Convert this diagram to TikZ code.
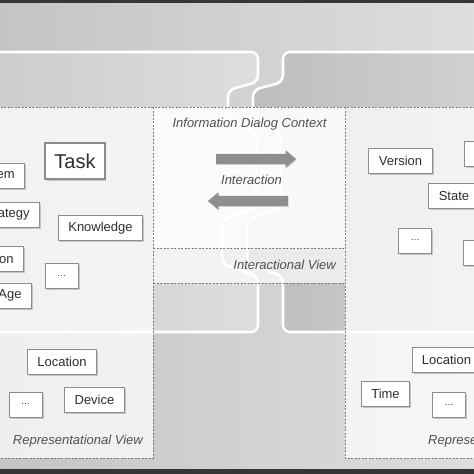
\documentclass[tikz,border=0pt]{standalone}
\usepackage{fontspec}
\setmainfont{Liberation Sans}
\usepackage{xcolor}
\usepackage{tikz}
\usetikzlibrary{arrows,shapes,shapes.arrows,shadows,positioning}

\definecolor{boxline}{HTML}{8C8C8C}
\definecolor{boxtext}{HTML}{2E2E2E}
\definecolor{viewtext}{HTML}{505050}
\definecolor{dashline}{HTML}{7C7C7C}
\definecolor{flowgray}{HTML}{8E8E8E}
\definecolor{frame}{HTML}{363636}

\begin{document}
\begin{tikzpicture}[x=1pt, y=-1pt, node distance=1.7cm, auto, >=latex']
  \tikzstyle{item}=[rectangle, draw=boxline, fill=white, line width=0.8pt, text=boxtext, font=\fontsize{13}{15}\selectfont, inner xsep=10pt, inner ysep=0pt, minimum height=25pt, drop shadow={shadow xshift=1.6pt, shadow yshift=-1.6pt, fill=black!40}]
  \tikzstyle{dots}=[item, minimum width=33pt, font=\fontsize{9}{11}\selectfont]
  \tikzstyle{view}=[font=\fontsize{13}{15}\selectfont\itshape, text=viewtext, inner sep=0pt]
  \tikzstyle{panel}=[draw=dashline, dash pattern=on 2pt off 1.5pt, line width=0.6pt]
  \tikzstyle{edge}=[draw=white, line width=2.6pt, rounded corners=7pt]
  \tikzstyle{flow}=[single arrow, fill=flowgray, draw=none, inner xsep=0pt, inner ysep=5pt, single arrow head extend=3.5pt, single arrow tip angle=80, minimum height=80pt, drop shadow={shadow xshift=1pt, shadow yshift=-1pt, fill=black!25}]

  \useasboundingbox (0,0) rectangle (474,474);
  \clip (0,0) rectangle (474,474);

  % background and puzzle pieces
  \shade[left color=black!23, right color=black!13] (0,0) rectangle (474,474);
  \shade[left color=black!20, right color=black!13, rounded corners=7pt]
    (-10,52) -- (258,52) -- (258,82) -- (228,90) -- (228,118) -- (256,132) -- (256,208)
    -- (222,220) -- (222,264) -- (258,276) -- (258,332) -- (-10,332) -- cycle;
  \shade[left color=black!26, right color=black!18, rounded corners=7pt]
    (484,52) -- (283,52) -- (283,82) -- (253,90) -- (253,118) -- (281,132) -- (281,208)
    -- (247,220) -- (247,264) -- (283,276) -- (283,332) -- (484,332) -- cycle;
  \draw[edge] (-10,52) -- (258,52) -- (258,82) -- (228,90) -- (228,118) -- (256,132) -- (256,208)
    -- (222,220) -- (222,264) -- (258,276) -- (258,332) -- (-10,332);
  \draw[edge] (484,52) -- (283,52) -- (283,82) -- (253,90) -- (253,118) -- (281,132) -- (281,208)
    -- (247,220) -- (247,264) -- (283,276) -- (283,332) -- (484,332);

  % panels
  \fill[white, fill opacity=0.74] (-10,107) rectangle (153,458);
  \fill[white, fill opacity=0.74] (345,107) rectangle (484,458);
  \fill[white, fill opacity=0.9] (153,107) rectangle (345,248);
  \fill[white, fill opacity=0.68] (153,248) rectangle (345,283);
  \draw[panel] (-10,107) -- (484,107);
  \draw[panel] (153,248) -- (345,248) (153,283) -- (345,283);
  \draw[panel] (153,107) -- (153,458) -- (-10,458);
  \draw[panel] (345,107) -- (345,458) -- (484,458);

  % frame
  \fill[frame] (0,0) rectangle (474,2.5);
  \fill[frame] (0,469) rectangle (474,474);

  % left panel
  \node[item, font=\fontsize{20}{24}\selectfont, line width=2pt, minimum height=36pt, inner xsep=9pt] (task) at (75,161) {Task};
  \node[item, anchor=east] (problem) at (25,175.5) {System};
  \node[item, anchor=east] (strategy) at (40,214.5) {Strategy};
  \node[item] (knowledge) at (100.5,228) {Knowledge};
  \node[item, anchor=east] (emotion) at (24,259) {Emotion};
  \node[dots] (userdots) at (61.5,276) {\ldots};
  \node[item, anchor=east] (age) at (32,295.5) {Age};
  \node[item] (userloc) at (62,362) {Location};
  \node[dots] (userdevdots) at (25.5,404.5) {\ldots};
  \node[item] (device) at (94.5,399.5) {Device};
  \node[view, anchor=east] (userview) at (143,441) {Representational View};

  % middle panel
  \node[view] (context) at (249.5,124) {Information Dialog Context};
  \node[flow] (toright) at (253,159) {};
  \node[view] (interaction) at (251.5,180) {Interaction};
  \node[flow, shape border rotate=180] (toleft) at (251,201) {};
  \node[view, anchor=east] (interview) at (336,265) {Interactional View};

  % right panel
  \node[item] (version) at (400.5,160.5) {Version};
  \node[item, anchor=west, minimum width=34pt] (infotype) at (464,154) {};
  \node[item, minimum width=50pt] (state) at (454,196) {State};
  \node[dots] (infodots) at (415,240.5) {\ldots};
  \node[item, anchor=west, minimum width=34pt] (infoformat) at (463,253) {};
  \node[item, minimum width=67pt] (infoloc) at (446.5,359.5) {Location};
  \node[item] (time) at (385.5,393.5) {Time};
  \node[dots] (infotimedots) at (449,405) {\ldots};
  \node[view, anchor=west] (infoview) at (428,441) {Representational View};
\end{tikzpicture}
\end{document}
